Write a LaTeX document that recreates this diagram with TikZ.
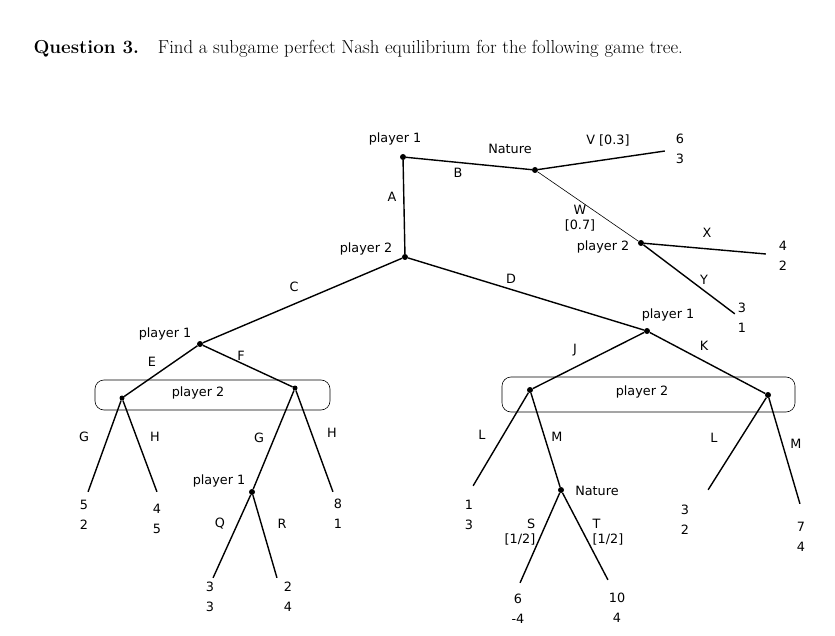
\documentclass[tikz,border=0pt]{standalone}
\usepackage{fontspec}
\newfontfamily\vf{DejaVu Sans}
\begin{document}
\begin{tikzpicture}[x=1pt,y=-1pt,
  dot/.style={circle,fill,inner sep=0pt,minimum size=6pt},
  leaf/.style={inner sep=0pt,minimum size=0pt},
  lab/.style={font=\vf\fontsize{12.8}{15}\selectfont,inner sep=1pt},
  pay/.style={font=\vf\fontsize{12.8}{20}\selectfont,align=center,inner sep=1pt},
  br/.style={line width=1.4pt},
  iset/.style={draw,rounded corners=9pt,line width=0.6pt}]
\useasboundingbox (0,0) rectangle (835,636);
\node[anchor=west,font=\fontsize{18.8}{21}\selectfont] (title) at (30,49) {\textbf{Question 3.}\quad Find a subgame perfect Nash equilibrium for the following game tree.};
% nodes
\node[dot] (p1) at (403,157) {};
\node[dot] (n1) at (535,170) {};
\node[leaf] (v) at (665,151) {};
\node[dot] (p2b) at (641,243) {};
\node[leaf] (x) at (766,254) {};
\node[leaf] (y) at (735,314) {};
\node[dot] (p2) at (405,257) {};
\node[dot] (p1l) at (200,344) {};
\node[dot] (p1r) at (647,331) {};
\node[dot,minimum size=5pt] (a) at (122,398) {};
\node[dot,minimum size=5pt] (b) at (295,388) {};
\node[leaf] (g1) at (88,492) {};
\node[leaf] (h1) at (157,492) {};
\node[dot] (p1q) at (252,492) {};
\node[leaf] (h2) at (333,492) {};
\node[leaf] (q) at (213,578) {};
\node[leaf] (r) at (277,578) {};
\node[dot] (c) at (530,390) {};
\node[dot] (d) at (768,395) {};
\node[leaf] (l1) at (473,486) {};
\node[dot] (n2) at (561,490) {};
\node[leaf] (s) at (520,583) {};
\node[leaf] (t) at (608,580) {};
\node[leaf] (l2) at (708,490) {};
\node[leaf] (m2) at (800,504) {};
% info sets
\draw[iset] (95,380) rectangle (330,410);
\draw[iset] (502,377) rectangle (795,412);
% edges
\draw[br] (p1) -- (n1) (p1) -- (p2) (n1) -- (v);
\draw[line width=0.6pt] (n1) -- (p2b);
\draw[br] (p2b) -- (x) (p2b) -- (y);
\draw[br] (p2) -- (p1l) (p2) -- (p1r);
\draw[br] (p1l) -- (a) (p1l) -- (b) (p1r) -- (c) (p1r) -- (d);
\draw[br] (a) -- (g1) (a) -- (h1) (b) -- (p1q) (b) -- (h2);
\draw[br] (p1q) -- (q) (p1q) -- (r);
\draw[br] (c) -- (l1) (c) -- (n2) (n2) -- (s) (n2) -- (t);
\draw[br] (d) -- (l2) (d) -- (m2);
% labels
\node[lab] (t1) at (395,139) {player 1};
\node[lab] (t2) at (510,149) {Nature};
\node[lab] (t3) at (608,140) {V [0.3]};
\node[lab] (t4) at (458,173) {B};
\node[lab] (t5) at (392,197) {A};
\node[lab,align=center] (t6) at (580,218) {W\\{}[0.7]};
\node[lab] (t7) at (603,247) {player 2};
\node[lab] (t8) at (366,249) {player 2};
\node[lab] (t9) at (707,233) {X};
\node[lab] (t10) at (704,280) {Y};
\node[lab] (t11) at (294,287) {C};
\node[lab] (t12) at (511,279) {D};
\node[lab] (t13) at (668,315) {player 1};
\node[lab] (t14) at (165,334) {player 1};
\node[lab] (t15) at (152,362) {E};
\node[lab] (t16) at (241,356) {F};
\node[lab] (t17) at (575,350) {J};
\node[lab] (t18) at (704,346) {K};
\node[lab] (t19) at (198,393) {player 2};
\node[lab] (t20) at (642,392) {player 2};
\node[lab] (t21) at (84,437) {G};
\node[lab] (t22) at (155,437) {H};
\node[lab] (t23) at (259,438) {G};
\node[lab] (t24) at (332,433) {H};
\node[lab] (t25) at (482,435) {L};
\node[lab] (t26) at (557,437) {M};
\node[lab] (t27) at (714,438) {L};
\node[lab] (t28) at (796,444) {M};
\node[lab] (t29) at (219,481) {player 1};
\node[lab] (t30) at (597,491) {Nature};
\node[lab] (t31) at (220,524) {Q};
\node[lab] (t32) at (282,524) {R};
\node[lab,align=right] (t33) at (520,532) {S\\{}[1/2]};
\node[lab,align=left] (t34) at (608,532) {T\\{}[1/2]};
\node[pay] (u1) at (680,149) {6\\3};
\node[pay] (u2) at (783,256) {4\\2};
\node[pay] (u3) at (742,318) {3\\1};
\node[pay] (u4) at (84,515) {5\\2};
\node[pay] (u5) at (157,519) {4\\5};
\node[pay] (u6) at (338,514) {8\\1};
\node[pay] (u7) at (210,597) {3\\3};
\node[pay] (u8) at (288,597) {2\\4};
\node[pay] (u9) at (469,515) {1\\3};
\node[pay] (u10) at (685,520) {3\\2};
\node[pay] (u11) at (801,537) {7\\4};
\node[pay] (u12) at (518,609) {6\\-4};
\node[pay] (u13) at (617,608) {10\\4};
\end{tikzpicture}
\end{document}
